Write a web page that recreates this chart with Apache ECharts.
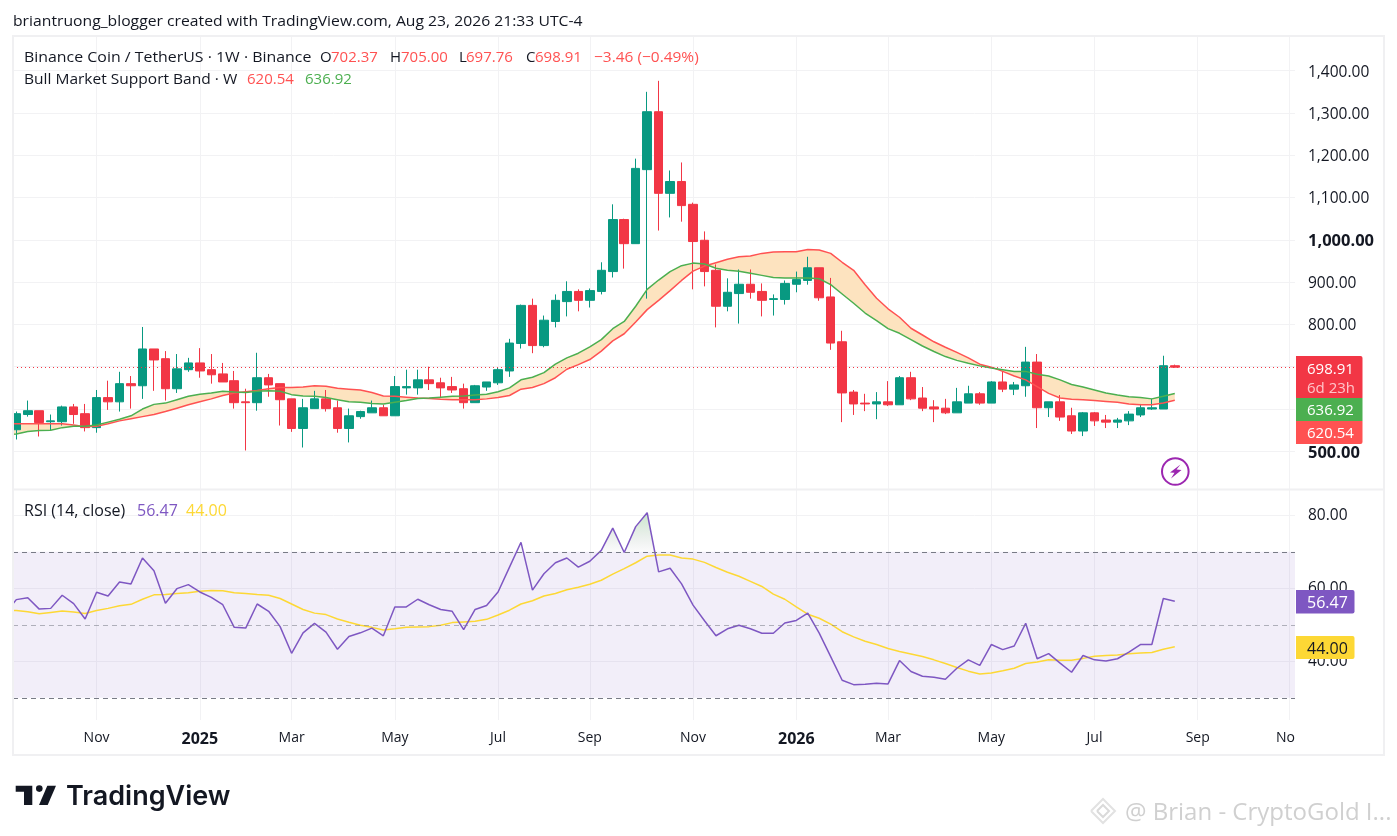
<!DOCTYPE html>
<html><head><meta charset="utf-8">
<style>html,body{margin:0;padding:0;background:#fff}#c{width:1397px;height:836px}</style>
<script src="https://cdn.jsdelivr.net/npm/echarts@6/dist/echarts.min.js"></script>
</head><body><div id="c"></div>
<script>
// weekly candles [open, close, low, high]
const candles = [
[551,589,528,594],[587,596,582,620],[596,568,535,596],[570,572,550,587],[570,605,561,608],[605,587,565,612],[589,556,547,612],[556,627,544,645],[627,617,598,667],[617,660,594,688],
[660,655,601,678],[655,742,624,794],[742,716,643,742],[719,648,620,737],[648,695,638,730],[693,709,688,721],[709,690,674,744],[693,681,660,730],[683,664,664,709],[667,615,601,690],
[617,615,502,648],[615,674,596,733],[674,657,629,683],[660,622,561,660],[624,554,546,624],[554,603,509,624],[601,624,601,643],[624,601,594,645],[603,554,544,620],[554,584,521,601],
[582,594,577,596],[591,603,591,620],[603,584,584,610],[584,653,584,678],[650,653,634,693],[650,669,634,693],[669,660,645,700],[662,650,627,674],[653,645,638,676],[648,615,601,660],
[615,655,615,657],[652,664,643,664],[662,693,657,697],[690,756,676,766],[755,845,743,847],[845,750,732,861],[750,810,746,821],[807,857,793,871],[854,878,819,902],[878,857,831,883],
[857,880,840,885],[878,928,871,947],[925,1048,911,1084],[1048,991,932,1050],[991,1169,991,1192],[1166,1303,861,1350],[1303,1110,1022,1376],[1110,1138,1053,1164],[1138,1081,1043,1183],[1084,996,883,1088],
[999,925,890,1020],[928,843,793,942],[843,876,831,909],[873,895,802,930],[895,876,861,930],[878,857,819,897],[859,861,821,871],[859,897,847,904],[895,906,876,925],[904,934,894,960],
[934,863,856,934],[865,756,740,910],[759,638,569,785],[640,612,586,645],[614,612,595,636],[612,617,576,640],[617,610,607,666],[610,674,610,678],[674,624,621,688],[626,602,595,652],
[605,600,569,621],[602,591,588,624],[591,617,591,650],[614,636,614,655],[636,614,610,640],[614,664,614,666],[664,647,640,690],[647,657,633,664],[655,711,629,747],[711,603,555,730],
[603,617,581,617],[617,581,572,633],[584,548,541,603],[548,591,536,593],[591,572,560,593],[574,569,555,586],[569,574,555,579],[572,588,562,595],[586,603,581,612],[600,603,598,624],
[600,702.37,600,726],[702.37,698.91,697.76,705]];
// Bull Market Support Band; the first entry sits one week before the first candle
const bandRed = [565,565,565,565,565,565,562,558,559,565,572,577,582,587,594,602,610,617,624,632,638,641,644,648,651,651,652,655,654,649,647,645,639,631,630,628,626,625,623,622,
622,622,624,627,632,647,651,660,674,694,705,717,737,761,778,806,835,857,880,904,926,938,946,954,960,962,968,971,972,972,977,976,968,947,928,894,862,837,817,791,775,759,746,734,721,706,699,689,678,669,653,637,626,623,622,620,618,616,612,610,610,614,620.54];
const bandGreen = [540,541,547,549,550,556,559,559,562,569,576,584,600,611,614,622,630,635,638,642,640,639,642,643,642,634,631,630,627,622,617,616,613,612,616,620,625,626,628,630,
631,633,635,641,650,669,675,686,706,721,732,747,764,790,807,843,883,905,925,939,945,943,933,928,926,921,916,911,910,910,910,908,894,872,850,827,809,790,779,764,749,736,724,715,708,702,697,693,689,689,682,678,669,658,652,645,638,633,629,627,624,630,636.92];
const rsi = [53,56.9,57.4,54.3,54.5,58.1,55.8,51.6,58.9,57.9,61.7,61.2,68.3,64.8,55.9,59.9,61,59,57.5,55.5,49.3,49.1,55.7,53.7,49.5,42.2,47.8,50.4,48,43.3,46.8,47.8,49.1,47,54.9,54.9,57,55.5,54.2,53.7,
48.7,54.2,55.3,59,65.8,72.6,59.5,64,67,68.3,65.8,67.4,70.4,76.5,69.8,76.9,80.7,64.5,65.5,61.2,55.4,51.1,47,48.9,49.9,48.9,47.7,47.7,50.5,51.2,53.2,47.7,41.3,34.8,33.6,33.7,34,33.8,40.2,
37.2,35.9,35.6,35.1,38.1,40.4,38.9,44.6,43.2,44.2,50.4,40.7,42.1,39.5,37,41.6,40.4,40.1,40.7,42.5,44.6,44.6,57.2,56.47];
const rsiMa = [54,53.9,53.6,53,53.4,53.8,53.5,53.1,53.9,54.5,55.2,55.6,57,58.2,58.3,58.6,58.8,59.2,59.4,59.3,58.8,58.6,58.3,58.1,57.2,55.7,54.2,53.2,52.8,51.6,50.7,49.9,49.3,48.6,48.9,49.3,49.4,49.5,49.9,50.6,
50.8,51,51.5,52.7,54,55.7,56.6,57.9,58.6,59.6,60.3,61.1,62.2,63.9,65.4,67,68.8,69.1,69.1,68.3,68,67.1,65.7,64.4,63.3,61.9,60.5,58.4,57,54.9,52.9,51.8,50.2,48.1,46.7,45.5,44.6,43.5,42.7,
42,41.3,40.4,39.4,38.3,37.3,36.5,36.8,37.4,38.1,39.4,39.8,40.4,40.3,40.3,40.8,41.4,41.6,41.7,42.1,42.3,42.4,43.3,44];
const timeTicks = [7,16,24,33,42,50,59,68,76,85,94,103,111];
const timeLabels = ['Nov','2025','Mar','May','Jul','Sep','Nov','2026','Mar','May','Jul','Sep','No'];
const priceTicks = [500,600,700,800,900,1000,1100,1200,1300,1400];
const rsiTicks = [40,60,80];

const UI = '"Open Sans", sans-serif', TXT = '#131722', GRID = '#f2f2f4';
const UP = '#089981', DOWN = '#f23645', RED = '#ff5252', GREEN = '#4caf50', PURPLE = '#7e57c2', YEL = '#fdd835';
const fmt = v => v.toLocaleString('en-US', {minimumFractionDigits: 2, maximumFractionDigits: 2});
const lined = arr => arr.map((v, j) => [j - 1, v]);
const xCommon = {type: 'value', min: -0.288, max: 111.48,
  axisLine: {show: false}, axisTick: {show: false, customValues: timeTicks},
  splitLine: {show: true, lineStyle: {color: GRID, width: 1}}};

const T = (text, x, y, fill, o) => {
  o = o || {};
  return {type: 'text', x, y, z: 110, silent: true, scaleX: o.sx || 1,
    style: {text, fill, font: o.font || ('15px ' + UI), textVerticalAlign: 'middle', textAlign: 'left'}};
};
const R = (x, y, w, h, fill, r) => ({type: 'rect', z: 100, silent: true, shape: {x, y, width: w, height: h, r: r || 0}, style: {fill}});
const P = (points, style) => ({type: 'polygon', z: 100, silent: true, shape: {points}, style});
const L = (points, stroke, lw) => ({type: 'polyline', z: 100, silent: true, shape: {points}, style: {stroke, lineWidth: lw, fill: null}});

const graphics = [
  {type: 'rect', z: 90, silent: true, shape: {x: 13, y: 36, width: 1371, height: 719}, style: {fill: null, stroke: '#f0f0f2', lineWidth: 2}},
  {type: 'line', z: 90, silent: true, shape: {x1: 13, y1: 489.5, x2: 1384, y2: 489.5}, style: {stroke: '#f0f0f2', lineWidth: 2}},
  T('briantruong_blogger created with TradingView.com, Aug 23, 2026 21:33 UTC-4', 13, 22, TXT, {sx: 1.048}),
  T('Binance Coin / TetherUS · 1W · Binance', 24, 58, TXT, {sx: 1.06}),
  T('O', 320, 58, TXT), T('702.37', 331, 58, RED),
  T('H', 390, 58, TXT), T('705.00', 401, 58, RED),
  T('L', 459, 58, TXT), T('697.76', 466, 58, RED),
  T('C', 526, 58, TXT), T('698.91', 535, 58, RED),
  T('−3.46 (−0.49%)', 594, 58, RED, {sx: 1.03}),
  T('Bull Market Support Band · W', 24, 80, TXT, {sx: 1.035}),
  T('620.54', 247, 80, RED), T('636.92', 305, 80, GREEN),
  T('RSI (14, close)', 24, 511, TXT, {font: '16px ' + UI}),
  T('56.47', 137, 511, PURPLE, {font: '16px ' + UI}), T('44.00', 186, 511, YEL, {font: '16px ' + UI}),
  // price tags
  R(1296, 356, 66.5, 42, DOWN, [0, 2, 0, 0]), R(1296, 398, 66.5, 23, GREEN), R(1296, 421, 66.5, 23, RED, [0, 0, 2, 0]),
  T('698.91', 1307, 369.5, '#fff'), T('6d 23h', 1307, 389, '#ffc4c9'), T('636.92', 1307, 411, '#fff'), T('620.54', 1307, 434, '#fff'),
  R(1296, 590, 58.5, 23.5, PURPLE, [0, 2, 2, 0]), T('56.47', 1307, 603, '#fff', {font: '16px ' + UI}),
  R(1296, 636, 58.5, 23, YEL, [0, 2, 2, 0]), T('44.00', 1307, 649, TXT, {font: '16px ' + UI}),
  // lightning badge
  {type: 'circle', z: 100, silent: true, shape: {cx: 1175.3, cy: 471.5, r: 13.3}, style: {fill: '#fff', stroke: '#9c27b0', lineWidth: 2}},
  P([[1180.5, 464.5], [1170, 472.5], [1174.5, 472.8], [1171, 478.5], [1181.5, 470], [1176.5, 469.5]], {fill: '#9c27b0'}),
  // TradingView logo
  P([[15.7, 785.7], [32.3, 785.7], [32.3, 805], [24, 805], [24, 791.7], [15.7, 791.7]], {fill: TXT}),
  {type: 'circle', z: 100, silent: true, shape: {cx: 39.3, cy: 788.6, r: 3.3}, style: {fill: TXT}},
  P([[47.3, 785.7], [56, 785.7], [47.7, 805], [39, 805]], {fill: TXT}),
  {type: 'text', z: 110, silent: true, x: 66, y: 797, style: {text: 'TradingView', fill: TXT, font: '600 27px Inter, sans-serif', textVerticalAlign: 'middle'}},
  // watermark
  L([[1091, 811], [1103, 799], [1115, 811], [1103, 823], [1091, 811]], '#e2e2e2', 2),
  L([[1097, 811], [1103, 805], [1109, 811], [1103, 817], [1097, 811]], '#dadada', 2),
  T('@ Brian - CryptoGold I...', 1125, 813, '#d0d0d0', {font: '24px ' + UI})
];

const chart = echarts.init(document.getElementById('c'), null, {renderer: 'canvas'});
chart.setOption({
  animation: false, backgroundColor: '#fff',
  grid: [{left: 13, right: 102, top: 36, height: 453}, {left: 13, right: 102, top: 490, bottom: 116}],
  xAxis: [
    Object.assign({gridIndex: 0, axisLabel: {show: false}}, xCommon),
    Object.assign({gridIndex: 1, axisLabel: {show: true, customValues: timeTicks, margin: 11, color: TXT, fontSize: 14, fontFamily: UI,
      showMinLabel: true, showMaxLabel: true,
      formatter: v => { const s = timeLabels[timeTicks.indexOf(v)] || ''; return /^20/.test(s) ? '{b|' + s + '}' : (s === 'No' ? '{n|No}' : s); },
      rich: {b: {fontWeight: 'bold', fontSize: 16, color: TXT, fontFamily: UI},
             n: {fontSize: 14, color: TXT, fontFamily: UI, padding: [0, 8, 0, 0]}}}}, xCommon)
  ],
  yAxis: [
    {gridIndex: 0, type: 'value', position: 'right', min: 410.9, max: 1482,
      axisLine: {show: false}, axisTick: {show: false, customValues: priceTicks},
      splitLine: {show: true, lineStyle: {color: GRID, width: 1}},
      axisLabel: {customValues: priceTicks, margin: 13, color: TXT, fontSize: 15.5, fontFamily: UI, padding: [3, 0, 0, 0],
        formatter: v => (v === 1000 || v === 500) ? '{b|' + fmt(v) + '}' : fmt(v),
        rich: {b: {fontWeight: 'bold', fontSize: 16.5, color: TXT, fontFamily: UI}}}},
    {gridIndex: 1, type: 'value', position: 'right', min: 23.92, max: 86.93,
      axisLine: {show: false}, axisTick: {show: false, customValues: rsiTicks},
      splitLine: {show: true, lineStyle: {color: GRID, width: 1}},
      axisLabel: {customValues: rsiTicks, margin: 13, color: TXT, fontSize: 15.5, fontFamily: UI, padding: [5, 0, 0, 0], formatter: v => fmt(v)}}
  ],
  series: [
    {type: 'custom', xAxisIndex: 0, yAxisIndex: 0, clip: true, silent: true, data: [[0, 600]], encode: {x: 0, y: 1},
      renderItem: (p, api) => {
        const top = bandRed.map((v, j) => api.coord([j - 1, v]));
        const bot = bandGreen.map((v, j) => api.coord([j - 1, v])).reverse();
        return {type: 'polygon', shape: {points: top.concat(bot)}, style: {fill: '#fde3bf'}};
      }},
    {type: 'line', name: 'red', xAxisIndex: 0, yAxisIndex: 0, data: lined(bandRed), showSymbol: false, silent: true, lineStyle: {color: RED, width: 1.5}},
    {type: 'line', name: 'green', xAxisIndex: 0, yAxisIndex: 0, data: lined(bandGreen), showSymbol: false, silent: true, lineStyle: {color: GREEN, width: 1.5}},
    {type: 'candlestick', xAxisIndex: 0, yAxisIndex: 0, barWidth: 9, silent: true,
      data: candles.map((c, i) => [i, c[0], c[1], c[2], c[3]]), encode: {x: 0, y: [1, 2, 3, 4]},
      itemStyle: {color: UP, color0: DOWN, borderColor: UP, borderColor0: DOWN, borderWidth: 1},
      markLine: {silent: true, symbol: 'none', animation: false, label: {show: false},
        lineStyle: {color: DOWN, type: [1, 3], width: 1}, data: [{yAxis: 698.91}]}},
    {type: 'custom', xAxisIndex: 1, yAxisIndex: 1, clip: true, silent: true, data: [[0, 70]], encode: {x: 0, y: 1},
      renderItem: (p, api) => {
        const OB = 70, kids = [];
        const y80 = api.coord([0, 80])[1], y70 = api.coord([0, OB])[1];
        let run = null;
        for (let j = 1; j < rsi.length; j++) {
          const a = rsi[j - 1], b = rsi[j], xa = j - 2, xb = j - 1;
          if (a <= OB && b > OB) { run = [[xa + (OB - a) / (b - a), OB], [xb, b]]; }
          else if (a > OB && b > OB && run) { run.push([xb, b]); }
          else if (a > OB && b <= OB && run) {
            run.push([xa + (a - OB) / (a - b), OB]);
            kids.push({type: 'polygon', shape: {points: run.map(q => api.coord(q))},
              style: {fill: new echarts.graphic.LinearGradient(0, y80, 0, y70, [
                {offset: 0, color: 'rgba(76,175,80,0.28)'}, {offset: 1, color: 'rgba(120,123,134,0.03)'}], true)}});
            run = null;
          }
        }
        return {type: 'group', children: kids};
      }},
    {type: 'line', xAxisIndex: 1, yAxisIndex: 1, data: lined(rsiMa), showSymbol: false, silent: true, lineStyle: {color: YEL, width: 1.5}, z: 3},
    {type: 'line', xAxisIndex: 1, yAxisIndex: 1, data: lined(rsi), showSymbol: false, silent: true, lineStyle: {color: PURPLE, width: 1.5}, z: 3,
      markArea: {silent: true, animation: false, itemStyle: {color: 'rgba(126,87,194,0.1)'}, data: [[{yAxis: 30}, {yAxis: 70}]]},
      markLine: {silent: true, symbol: 'none', animation: false, label: {show: false}, data: [
        {yAxis: 70, lineStyle: {color: '#787b86', type: [5, 4], width: 1}},
        {yAxis: 50, lineStyle: {color: 'rgba(120,123,134,0.55)', type: [5, 4], width: 1}},
        {yAxis: 30, lineStyle: {color: '#787b86', type: [5, 4], width: 1}}]}}
  ],
  graphic: {elements: graphics}
});
</script></body></html>
